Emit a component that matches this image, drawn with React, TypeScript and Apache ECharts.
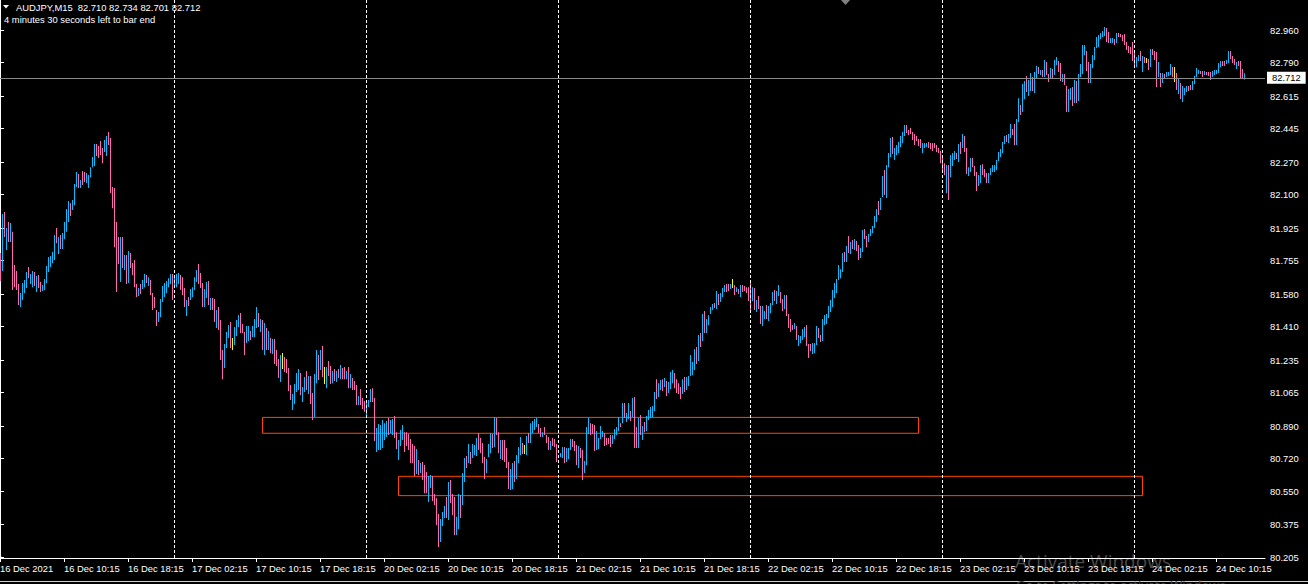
import React, { useEffect, useRef } from "react";
import * as echarts from "echarts";

// ---------- data ----------
const symbolLabel = "AUDJPY,M15";
const lastBarOHLC = ["82.710", "82.734", "82.701", "82.712"];
const timerText = "4 minutes 30 seconds left to bar end";
const currentPrice = 82.712;

const xTickLabels = [
  "16 Dec 2021", "16 Dec 10:15", "16 Dec 18:15", "17 Dec 02:15", "17 Dec 10:15",
  "17 Dec 18:15", "20 Dec 02:15", "20 Dec 10:15", "20 Dec 18:15", "21 Dec 02:15",
  "21 Dec 10:15", "21 Dec 18:15", "22 Dec 02:15", "22 Dec 10:15", "22 Dec 18:15",
  "23 Dec 02:15", "23 Dec 10:15", "23 Dec 18:15", "24 Dec 02:15", "24 Dec 10:15",
];
const barsPerXTick = 32;
const yTickLabels = [
  "80.205", "80.375", "80.550", "80.720", "80.890", "81.065", "81.235", "81.410",
  "81.580", "81.755", "81.925", "82.100", "82.270", "82.445", "82.615", "82.790", "82.960",
];
const priceMin = 80.2;
const priceMax = 83.117;
const daySeparatorBars = [87, 183, 279, 375, 471, 567];
const visibleBarSlots = 632.5;

// rectangles drawn on the chart: [startBar, endBar], top price, bottom price
const zoneBars = [[131, 459], [199, 571]];
const zoneTop = [80.935, 80.627];
const zoneBottom = [80.852, 80.526];

const barHigh = [
  81.794, 81.998, 82.009, 81.925, 81.957, 81.951, 81.905, 81.732, 81.700, 81.632,
  81.585, 81.637, 81.653, 81.695, 81.721, 81.684, 81.700, 81.695, 81.674, 81.679,
  81.643, 81.627, 81.658, 81.727, 81.773, 81.779, 81.800, 81.889, 81.925, 81.878,
  81.889, 81.899, 81.957, 82.024, 82.066, 82.055, 82.071, 82.155, 82.218, 82.207,
  82.176, 82.223, 82.218, 82.212, 82.202, 82.243, 82.296, 82.364, 82.364, 82.354,
  82.380, 82.343, 82.385, 82.406, 82.427, 82.396, 82.139, 82.134, 81.957, 81.878,
  81.878, 81.878, 81.784, 81.784, 81.805, 81.794, 81.742, 81.758, 81.632, 81.611,
  81.632, 81.653, 81.684, 81.679, 81.668, 81.653, 81.585, 81.564, 81.496, 81.486,
  81.554, 81.622, 81.637, 81.648, 81.663, 81.684, 81.684, 81.679, 81.684, 81.690,
  81.679, 81.668, 81.611, 81.549, 81.564, 81.606, 81.616, 81.668, 81.705, 81.737,
  81.690, 81.637, 81.606, 81.643, 81.648, 81.559, 81.559, 81.554, 81.496, 81.512,
  81.444, 81.287, 81.319, 81.382, 81.418, 81.434, 81.350, 81.407, 81.444, 81.470,
  81.481, 81.423, 81.382, 81.413, 81.413, 81.387, 81.413, 81.449, 81.512, 81.481,
  81.449, 81.444, 81.428, 81.402, 81.387, 81.350, 81.345, 81.345, 81.287, 81.240,
  81.261, 81.272, 81.251, 81.240, 81.193, 81.104, 81.057, 81.109, 81.167, 81.188,
  81.167, 81.094, 81.146, 81.178, 81.151, 81.151, 81.062, 81.162, 81.287, 81.261,
  81.287, 81.308, 81.198, 81.198, 81.230, 81.204, 81.178, 81.188, 81.178, 81.188,
  81.209, 81.193, 81.198, 81.178, 81.198, 81.162, 81.141, 81.125, 81.104, 81.047,
  81.083, 81.036, 81.021, 81.021, 81.026, 81.083, 81.088, 81.036, 80.880, 80.900,
  80.895, 80.921, 80.905, 80.916, 80.932, 80.921, 80.926, 80.942, 80.858, 80.817,
  80.869, 80.895, 80.858, 80.858, 80.848, 80.822, 80.796, 80.785, 80.770, 80.712,
  80.696, 80.702, 80.686, 80.650, 80.629, 80.634, 80.629, 80.534, 80.513, 80.430,
  80.404, 80.441, 80.472, 80.519, 80.597, 80.608, 80.534, 80.519, 80.415, 80.534,
  80.529, 80.644, 80.723, 80.733, 80.796, 80.754, 80.796, 80.791, 80.827, 80.853,
  80.827, 80.801, 80.728, 80.718, 80.796, 80.853, 80.848, 80.937, 80.932, 80.858,
  80.817, 80.817, 80.817, 80.775, 80.702, 80.665, 80.696, 80.707, 80.739, 80.780,
  80.832, 80.801, 80.791, 80.838, 80.853, 80.905, 80.916, 80.926, 80.932, 80.900,
  80.880, 80.858, 80.885, 80.843, 80.832, 80.812, 80.827, 80.822, 80.796, 80.739,
  80.749, 80.780, 80.780, 80.775, 80.775, 80.822, 80.822, 80.812, 80.791, 80.785,
  80.775, 80.765, 80.707, 80.885, 80.932, 80.905, 80.900, 80.895, 80.864, 80.827,
  80.890, 80.864, 80.853, 80.827, 80.827, 80.843, 80.843, 80.874, 80.885, 80.937,
  80.905, 81.010, 81.010, 80.958, 81.010, 80.969, 81.036, 81.042, 80.885, 80.932,
  80.947, 80.890, 80.911, 80.942, 80.974, 80.990, 80.995, 81.068, 81.135, 81.114,
  81.130, 81.135, 81.141, 81.125, 81.120, 81.172, 81.183, 81.167, 81.135, 81.114,
  81.094, 81.135, 81.146, 81.146, 81.151, 81.261, 81.225, 81.293, 81.303, 81.366,
  81.376, 81.475, 81.491, 81.449, 81.470, 81.512, 81.528, 81.533, 81.596, 81.580,
  81.585, 81.611, 81.627, 81.632, 81.632, 81.632, 81.658, 81.627, 81.616, 81.606,
  81.627, 81.627, 81.622, 81.616, 81.616, 81.643, 81.616, 81.611, 81.549, 81.570,
  81.517, 81.517, 81.491, 81.523, 81.517, 81.533, 81.591, 81.601, 81.596, 81.627,
  81.591, 81.554, 81.575, 81.575, 81.475, 81.449, 81.418, 81.428, 81.413, 81.366,
  81.361, 81.397, 81.407, 81.418, 81.319, 81.319, 81.324, 81.324, 81.413, 81.402,
  81.366, 81.449, 81.470, 81.475, 81.517, 81.549, 81.601, 81.637, 81.658, 81.732,
  81.710, 81.794, 81.800, 81.831, 81.883, 81.852, 81.862, 81.867, 81.857, 81.836,
  81.820, 81.915, 81.920, 81.883, 81.894, 81.920, 81.936, 81.988, 82.024, 82.066,
  82.082, 82.197, 82.228, 82.254, 82.317, 82.396, 82.401, 82.343, 82.359, 82.375,
  82.406, 82.427, 82.464, 82.464, 82.437, 82.448, 82.427, 82.417, 82.406, 82.390,
  82.390, 82.369, 82.369, 82.369, 82.375, 82.369, 82.369, 82.369, 82.359, 82.343,
  82.328, 82.307, 82.264, 82.254, 82.254, 82.307, 82.317, 82.328, 82.317, 82.364,
  82.375, 82.417, 82.406, 82.343, 82.243, 82.291, 82.291, 82.249, 82.218, 82.202,
  82.254, 82.259, 82.233, 82.212, 82.212, 82.238, 82.254, 82.254, 82.280, 82.323,
  82.338, 82.375, 82.406, 82.411, 82.417, 82.469, 82.443, 82.469, 82.495, 82.604,
  82.568, 82.678, 82.694, 82.720, 82.699, 82.735, 82.714, 82.741, 82.772, 82.767,
  82.751, 82.751, 82.803, 82.793, 82.730, 82.762, 82.756, 82.803, 82.819, 82.798,
  82.788, 82.730, 82.730, 82.667, 82.652, 82.657, 82.662, 82.699, 82.694, 82.730,
  82.782, 82.882, 82.882, 82.850, 82.793, 82.782, 82.829, 82.871, 82.923, 82.934,
  82.944, 82.955, 82.976, 82.970, 82.950, 82.918, 82.918, 82.913, 82.944, 82.944,
  82.939, 82.934, 82.939, 82.897, 82.876, 82.871, 82.897, 82.845, 82.819, 82.829,
  82.850, 82.824, 82.819, 82.814, 82.808, 82.861, 82.861, 82.850, 82.845, 82.793,
  82.735, 82.735, 82.730, 82.741, 82.741, 82.782, 82.767, 82.767, 82.735, 82.709,
  82.683, 82.667, 82.657, 82.667, 82.667, 82.673, 82.694, 82.720, 82.762, 82.751,
  82.746, 82.746, 82.746, 82.741, 82.741, 82.741, 82.746, 82.751, 82.751, 82.788,
  82.798, 82.798, 82.798, 82.803, 82.850, 82.850, 82.824, 82.808, 82.793, 82.798,
  82.798, 82.756, 82.734,
];

const barLow = [
  81.648, 81.700, 81.878, 81.810, 81.852, 81.852, 81.601, 81.616, 81.601, 81.523,
  81.512, 81.549, 81.585, 81.611, 81.663, 81.632, 81.616, 81.622, 81.591, 81.611,
  81.591, 81.596, 81.601, 81.637, 81.695, 81.721, 81.742, 81.758, 81.846, 81.789,
  81.815, 81.815, 81.867, 81.905, 81.957, 81.988, 82.019, 82.045, 82.139, 82.134,
  82.134, 82.150, 82.166, 82.160, 82.134, 82.191, 82.243, 82.249, 82.302, 82.291,
  82.307, 82.264, 82.323, 82.302, 82.359, 82.108, 82.029, 81.825, 81.591, 81.737,
  81.643, 81.716, 81.705, 81.632, 81.637, 81.716, 81.679, 81.616, 81.564, 81.570,
  81.580, 81.606, 81.616, 81.637, 81.622, 81.575, 81.496, 81.507, 81.413, 81.434,
  81.460, 81.538, 81.564, 81.585, 81.616, 81.632, 81.549, 81.616, 81.616, 81.632,
  81.601, 81.575, 81.512, 81.465, 81.517, 81.549, 81.564, 81.601, 81.643, 81.632,
  81.611, 81.512, 81.512, 81.559, 81.523, 81.496, 81.496, 81.434, 81.402, 81.392,
  81.235, 81.135, 81.193, 81.298, 81.350, 81.298, 81.287, 81.314, 81.361, 81.407,
  81.376, 81.376, 81.261, 81.324, 81.335, 81.340, 81.355, 81.355, 81.402, 81.407,
  81.382, 81.287, 81.261, 81.287, 81.287, 81.272, 81.266, 81.214, 81.204, 81.141,
  81.120, 81.188, 81.172, 81.167, 81.073, 81.026, 80.974, 81.005, 81.068, 81.078,
  81.052, 81.016, 81.068, 81.078, 81.057, 81.005, 80.921, 80.937, 81.114, 81.130,
  81.183, 81.146, 81.109, 81.088, 81.151, 81.109, 81.114, 81.125, 81.120, 81.141,
  81.135, 81.135, 81.135, 81.135, 81.088, 81.088, 81.078, 81.078, 81.000, 81.000,
  81.000, 80.979, 80.964, 80.943, 80.990, 81.016, 81.016, 80.812, 80.754, 80.765,
  80.765, 80.775, 80.817, 80.832, 80.843, 80.853, 80.843, 80.827, 80.770, 80.712,
  80.785, 80.817, 80.754, 80.785, 80.765, 80.696, 80.696, 80.629, 80.639, 80.634,
  80.644, 80.608, 80.539, 80.539, 80.493, 80.566, 80.498, 80.477, 80.373, 80.257,
  80.284, 80.367, 80.409, 80.409, 80.399, 80.487, 80.425, 80.320, 80.320, 80.352,
  80.409, 80.477, 80.597, 80.670, 80.696, 80.691, 80.723, 80.739, 80.733, 80.765,
  80.749, 80.696, 80.613, 80.644, 80.728, 80.749, 80.775, 80.780, 80.843, 80.749,
  80.718, 80.712, 80.702, 80.670, 80.561, 80.555, 80.561, 80.597, 80.613, 80.696,
  80.739, 80.744, 80.744, 80.739, 80.801, 80.801, 80.853, 80.869, 80.885, 80.853,
  80.832, 80.832, 80.843, 80.801, 80.765, 80.765, 80.785, 80.780, 80.702, 80.723,
  80.728, 80.723, 80.696, 80.702, 80.718, 80.765, 80.780, 80.760, 80.686, 80.670,
  80.723, 80.608, 80.644, 80.686, 80.848, 80.843, 80.848, 80.760, 80.765, 80.770,
  80.822, 80.832, 80.785, 80.791, 80.796, 80.780, 80.796, 80.822, 80.843, 80.864,
  80.885, 80.905, 80.932, 80.911, 80.926, 80.916, 80.937, 80.775, 80.775, 80.775,
  80.843, 80.817, 80.858, 80.864, 80.921, 80.932, 80.937, 80.969, 81.031, 81.042,
  81.078, 81.073, 81.094, 81.047, 81.062, 81.083, 81.114, 81.088, 81.062, 81.057,
  81.031, 81.057, 81.068, 81.078, 81.099, 81.151, 81.156, 81.183, 81.214, 81.230,
  81.303, 81.335, 81.376, 81.376, 81.418, 81.475, 81.496, 81.507, 81.502, 81.523,
  81.538, 81.564, 81.591, 81.591, 81.596, 81.606, 81.611, 81.575, 81.591, 81.580,
  81.564, 81.591, 81.596, 81.585, 81.543, 81.491, 81.543, 81.496, 81.486, 81.502,
  81.423, 81.413, 81.449, 81.449, 81.439, 81.481, 81.523, 81.543, 81.528, 81.570,
  81.533, 81.491, 81.502, 81.465, 81.402, 81.382, 81.392, 81.397, 81.340, 81.308,
  81.324, 81.340, 81.355, 81.308, 81.246, 81.282, 81.266, 81.272, 81.314, 81.350,
  81.329, 81.335, 81.418, 81.423, 81.454, 81.486, 81.512, 81.559, 81.585, 81.653,
  81.663, 81.695, 81.747, 81.747, 81.794, 81.789, 81.815, 81.810, 81.805, 81.758,
  81.768, 81.800, 81.867, 81.825, 81.852, 81.883, 81.899, 81.925, 81.957, 81.993,
  82.019, 82.087, 82.097, 82.082, 82.243, 82.296, 82.312, 82.280, 82.307, 82.317,
  82.348, 82.369, 82.406, 82.422, 82.411, 82.417, 82.385, 82.359, 82.380, 82.354,
  82.343, 82.317, 82.343, 82.348, 82.343, 82.338, 82.328, 82.343, 82.323, 82.317,
  82.264, 82.218, 82.202, 82.108, 82.071, 82.191, 82.249, 82.280, 82.286, 82.270,
  82.312, 82.343, 82.323, 82.207, 82.197, 82.218, 82.243, 82.197, 82.118, 82.145,
  82.160, 82.202, 82.191, 82.160, 82.160, 82.202, 82.218, 82.218, 82.228, 82.275,
  82.296, 82.317, 82.364, 82.375, 82.369, 82.396, 82.411, 82.359, 82.359, 82.479,
  82.516, 82.531, 82.599, 82.636, 82.615, 82.641, 82.641, 82.631, 82.709, 82.730,
  82.725, 82.714, 82.714, 82.725, 82.688, 82.704, 82.709, 82.725, 82.777, 82.741,
  82.694, 82.688, 82.673, 82.531, 82.531, 82.594, 82.563, 82.578, 82.578, 82.589,
  82.714, 82.730, 82.829, 82.746, 82.683, 82.683, 82.762, 82.803, 82.866, 82.871,
  82.913, 82.923, 82.929, 82.897, 82.892, 82.892, 82.892, 82.882, 82.892, 82.923,
  82.923, 82.902, 82.882, 82.855, 82.840, 82.835, 82.798, 82.767, 82.767, 82.798,
  82.798, 82.741, 82.788, 82.788, 82.751, 82.767, 82.829, 82.803, 82.662, 82.714,
  82.662, 82.683, 82.704, 82.714, 82.720, 82.725, 82.714, 82.688, 82.646, 82.625,
  82.599, 82.584, 82.620, 82.636, 82.641, 82.646, 82.646, 82.678, 82.714, 82.730,
  82.730, 82.714, 82.725, 82.725, 82.720, 82.699, 82.714, 82.725, 82.730, 82.735,
  82.767, 82.772, 82.772, 82.782, 82.788, 82.808, 82.788, 82.777, 82.756, 82.772,
  82.704, 82.704, 82.701,
];

// u = up bar, d = down bar, n = unchanged bar
const barDirection =
  "dudududddd" + "uuuuduudud" + "duuuuuuudu" + "duuuuduuud" + "udduuuuudd" +
  "dduudddddd" + "udududdddu" + "duududdddu" + "uuuuuuduuu" + "ddduduuuud" +
  "dduududdud" + "dduuudnuuu" + "ddduuduuud" + "ududududdd" + "undddduuuu" +
  "duududduud" + "udnuddudud" + "uddududddu" + "ddduuudduu" + "uuuuduuddu" +
  "uuddddddud" + "uddduudddd" + "uuududdduu" + "duududuuud" + "ddduuududd" +
  "udddduuduu" + "udnuduuuud" + "dudddudddu" + "uuduuudddu" + "dduuuddduu" +
  "uudddduuuu" + "duduududdu" + "duduuuuudu" + "ududuuuddd" + "duduuuuudu" +
  "duduuuudud" + "uuuddundud" + "udddddudud" + "duuduuuduu" + "dduddddudu" +
  "uuuddduuud" + "duuuuuuuuu" + "uududududd" + "uudduuuuud" + "uuduuuduuu" +
  "uuuddddddd" + "duuudddddd" + "ddduduuudu" + "dudduudddu" + "uddduuuuuu" +
  "uuuduudduu" + "duuduuduud" + "ududduduud" + "dudduududu" + "uuudduuuuu" +
  "uuudduudud" + "dddddddduu" + "dudndudddu" + "duduuudndu" + "duuudduuuu" +
  "dduddduuuu" + "udduudddud" + "ddu";

// ---------- styling ----------
const UP = "#00BFFF";
const DOWN = "#FF69B4";
const FLAT = "#FFFF00";
const FONT = '"Liberation Sans", Arial, sans-serif';
const FS = 9.4;
const PIX = 0.25; // quarter of a bar slot = half a pixel, keeps 1px lines crisp

export default function App() {
  const ref = useRef<HTMLDivElement>(null);

  useEffect(() => {
    if (!ref.current) return;
    const chart = echarts.init(ref.current, undefined, { renderer: "svg" });

    const barColors = barHigh.map((_, i) =>
      barDirection[i] === "u" ? UP : barDirection[i] === "d" ? DOWN : FLAT
    );
    const bars = barHigh.map((h, i) => [i, h, barLow[i]]);
    const yTickValues = yTickLabels.map((s) => parseFloat(s));
    const xTickValues = xTickLabels.map((_, i) => i * barsPerXTick);

    const option: any = {
      animation: false,
      backgroundColor: "#000000",
      grid: {
        left: 0,
        right: 43,
        top: 0,
        bottom: 26,
        containLabel: false,
        outerBoundsMode: "none",
      },
      xAxis: {
        type: "value",
        min: 0,
        max: visibleBarSlots,
        axisLine: { show: true, onZero: false, lineStyle: { color: "#ffffff", width: 1 } },
        axisTick: {
          show: true,
          length: 4,
          customValues: xTickValues,
          lineStyle: { color: "#ffffff" },
        },
        axisLabel: {
          show: true,
          customValues: xTickValues,
          formatter: (v: number) => xTickLabels[Math.round(v / barsPerXTick)] ?? "",
          color: "#ffffff",
          fontFamily: FONT,
          fontSize: FS,
          align: "left",
          margin: 6,
        },
        splitLine: { show: false },
      },
      yAxis: {
        type: "value",
        position: "right",
        min: priceMin,
        max: priceMax,
        axisLine: { show: true, lineStyle: { color: "#ffffff", width: 1 } },
        axisTick: { show: true, length: 4, customValues: yTickValues, lineStyle: { color: "#ffffff" } },
        axisLabel: {
          show: true,
          customValues: yTickValues,
          formatter: (v: number) => v.toFixed(3),
          color: "#ffffff",
          fontFamily: FONT,
          fontSize: FS,
          margin: 5,
        },
        splitLine: { show: false },
      },
      series: [
        {
          type: "custom",
          name: "AUDJPY",
          data: bars,
          encode: { x: 0, y: [1, 2] },
          clip: true,
          silent: true,
          renderItem: (params: any, api: any) => {
            const i = api.value(0);
            const top = api.coord([i, api.value(1)]);
            const bot = api.coord([i, api.value(2)]);
            const x = Math.round(top[0]);
            return {
              type: "rect",
              shape: { x, y: top[1], width: 1, height: Math.max(1, bot[1] - top[1]) },
              style: { fill: barColors[params.dataIndex] },
              silent: true,
            };
          },
          markLine: {
            silent: true,
            symbol: "none",
            animation: false,
            data: [
              ...daySeparatorBars.map((b) => ({
                xAxis: b + PIX,
                lineStyle: { color: "#ffffff", type: [3, 2], width: 1 },
                label: { show: false },
              })),
              {
                yAxis: currentPrice,
                lineStyle: { color: "#8a8a8a", type: "solid", width: 1 },
                label: {
                  show: true,
                  position: "end",
                  distance: 2,
                  formatter: currentPrice.toFixed(3),
                  color: "#000000",
                  backgroundColor: "#ffffff",
                  padding: [2, 5, 1, 5],
                  fontFamily: FONT,
                  fontSize: FS,
                },
              },
            ],
          },
          markArea: {
            silent: true,
            animation: false,
            data: zoneBars.map((zb, i) => [
              {
                xAxis: zb[0] + PIX,
                yAxis: zoneTop[i],
                itemStyle: { color: "rgba(0,0,0,0)", borderColor: "#FF4500", borderWidth: 1 },
              },
              { xAxis: zb[1] + PIX, yAxis: zoneBottom[i] },
            ]),
          },
        },
      ],
      graphic: [
        {
          type: "polygon",
          shape: { points: [[3, 5], [9, 5], [6, 8.5]] },
          style: { fill: "#ffffff" },
        },
        {
          type: "text",
          x: 16,
          y: 7,
          style: {
            text: `${symbolLabel}\u00a0\u00a0${lastBarOHLC.join(" ")}`,
            fill: "#ffffff",
            font: `${FS}px ${FONT}`,
            verticalAlign: "middle",
          },
        },
        {
          type: "text",
          x: 4,
          y: 19,
          style: { text: timerText, fill: "#ffffff", font: `${FS}px ${FONT}`, verticalAlign: "middle" },
        },
        {
          type: "polygon",
          shape: { points: [[841, 0], [850, 0], [845.5, 5]] },
          style: { fill: "#808080" },
        },
        {
          type: "polygon",
          shape: { points: [[0, 555], [4, 559], [0, 559]] },
          style: { fill: "#808080" },
        },
        {
          type: "line",
          shape: { x1: 0, y1: 581.5, x2: 1308, y2: 581.5 },
          style: { stroke: "#d0d0d0", lineWidth: 1 },
        },
        {
          type: "text",
          x: 1015,
          y: 561,
          style: {
            text: "Activate Windows",
            fill: "#4a4a4a",
            font: '19px "Open Sans", "Noto Sans", sans-serif',
            verticalAlign: "middle",
          },
        },
        {
          type: "text",
          x: 1016,
          y: 585,
          style: {
            text: "Go to Settings to activate Windows.",
            fill: "#4a4a4a",
            font: '13px "Open Sans", "Noto Sans", sans-serif',
            verticalAlign: "middle",
          },
        },
      ],
    };

    chart.setOption(option);
    return () => chart.dispose();
  }, []);

  return (
    <div
      ref={ref}
      style={{ position: "fixed", left: 0, top: 0, width: 1308, height: 584, background: "#000" }}
    />
  );
}
